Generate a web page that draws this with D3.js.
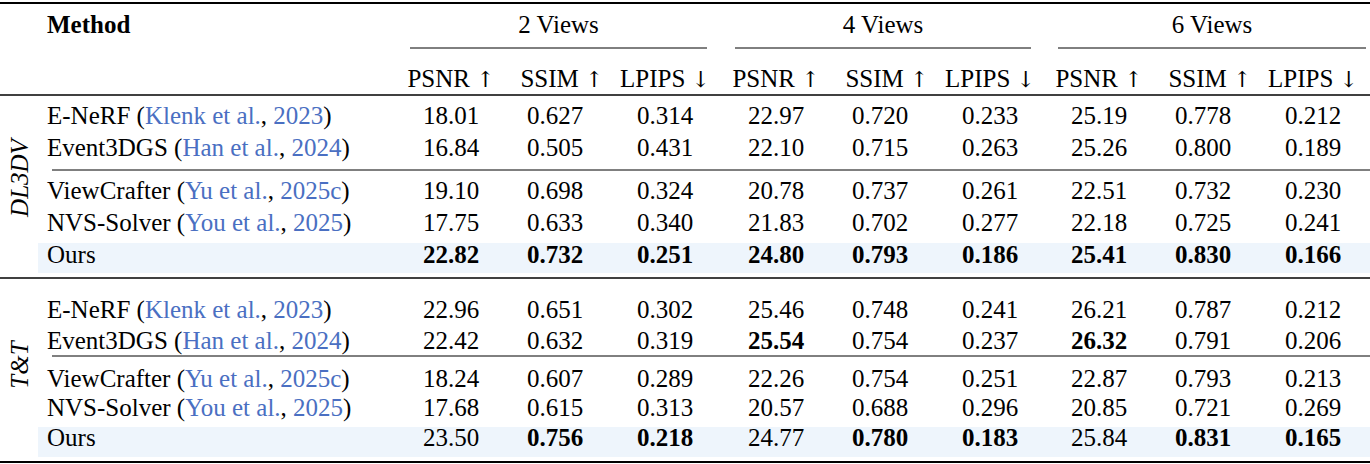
<!DOCTYPE html>
<html><head><meta charset="utf-8">
<script src="https://cdn.jsdelivr.net/npm/d3@7"></script>
<style>body{margin:0;background:#fff}svg{display:block}</style>
</head><body><svg id="c" width="1370" height="464"></svg>
<script>
const groups = ["2 Views","4 Views","6 Views"];
const metrics = ["PSNR","SSIM","LPIPS"];
const arrows = ["↑","↑","↓"];
const datasets = ["DL3DV","T&T"];
const methods = ["E-NeRF","Event3DGS","ViewCrafter","NVS-Solver","Ours"];
const cites = ["Klenk et al., 2023","Han et al., 2024","Yu et al., 2025c","You et al., 2025",""];
const dl3dv = [
 ["18.01","0.627","0.314","22.97","0.720","0.233","25.19","0.778","0.212"],
 ["16.84","0.505","0.431","22.10","0.715","0.263","25.26","0.800","0.189"],
 ["19.10","0.698","0.324","20.78","0.737","0.261","22.51","0.732","0.230"],
 ["17.75","0.633","0.340","21.83","0.702","0.277","22.18","0.725","0.241"],
 ["22.82","0.732","0.251","24.80","0.793","0.186","25.41","0.830","0.166"]];
const tt = [
 ["22.96","0.651","0.302","25.46","0.748","0.241","26.21","0.787","0.212"],
 ["22.42","0.632","0.319","25.54","0.754","0.237","26.32","0.791","0.206"],
 ["18.24","0.607","0.289","22.26","0.754","0.251","22.87","0.793","0.213"],
 ["17.68","0.615","0.313","20.57","0.688","0.296","20.85","0.721","0.269"],
 ["23.50","0.756","0.218","24.77","0.780","0.183","25.84","0.831","0.165"]];
const boldDL = [[],[],[],[],[0,1,2,3,4,5,6,7,8]];
const boldTT = [[],[3,6],[],[],[1,2,4,5,7,8]];

const svg = d3.select("#c");
const F = "'Liberation Serif','Times New Roman',serif";
const FS = 25;
const gr=[[410,707],[735,1031],[1058,1366]];
const offs=[41,145,255], hoffs=[41,152,255];
const colX = j=>gr[Math.floor(j/3)][0]+offs[j%3];
const hdrX = j=>gr[Math.floor(j/3)][0]+hoffs[j%3];
const blocks = [{name:"DL3DV",data:dl3dv,bold:boldDL,ys:[124,156,199,231,263],rule:170,hl:[243,273],lab:178},
                {name:"T&T",data:tt,bold:boldTT,ys:[318,349,387,416,446],rule:356,hl:[427,457],lab:365}];
const line=(x1,x2,y,w)=>svg.append("line").attr("x1",x1).attr("x2",x2).attr("y1",y).attr("y2",y).attr("stroke","#000").attr("stroke-width",w);
blocks.forEach(b=>svg.append("rect").attr("x",38).attr("y",b.hl[0]).attr("width",1332).attr("height",b.hl[1]-b.hl[0]).attr("fill","#eef5fc"));
line(0,1370,3,2.2); line(0,1370,95,1.4); line(0,1370,278,1.4); line(0,1370,462,2.2);
svg.append("text").attr("x",47).attr("y",33).attr("font-family",F).attr("font-size",FS).attr("font-weight","bold").text("Method");
groups.forEach((g,i)=>{
  svg.append("text").attr("x",(gr[i][0]+gr[i][1])/2).attr("y",33).attr("text-anchor","middle").attr("font-family",F).attr("font-size",FS).text(g);
  line(gr[i][0],gr[i][1],48,1);
});
d3.range(9).forEach(j=>{const t=svg.append("text").attr("x",hdrX(j)).attr("y",87).attr("text-anchor","middle").attr("font-family",F).attr("font-size",FS);
  t.append("tspan").text(metrics[j%3]+" ");
  t.append("tspan").attr("font-family","'DejaVu Serif',serif").attr("font-size",22).text(arrows[j%3]);});
blocks.forEach(b=>{
  line(52,1370,b.rule,1);
  svg.append("text").attr("transform",`translate(28,${b.lab}) rotate(-90)`).attr("text-anchor","middle").attr("font-family",F).attr("font-size",FS).attr("font-style","italic").text(b.name);
  methods.forEach((m,i)=>{
    const t=svg.append("text").attr("x",47).attr("y",b.ys[i]).attr("font-family",F).attr("font-size",FS);
    if(cites[i]){
      const p=cites[i].split(", ");
      t.append("tspan").text(m+" (");
      t.append("tspan").attr("fill","#4a6fc2").text(p[0]);
      t.append("tspan").text(", ");
      t.append("tspan").attr("fill","#4a6fc2").text(p[1]);
      t.append("tspan").text(")");
    } else t.text(m);
    b.data[i].forEach((v,j)=>svg.append("text").attr("x",colX(j)).attr("y",b.ys[i]).attr("text-anchor","middle")
      .attr("font-family",F).attr("font-size",FS).attr("font-weight",b.bold[i].includes(j)?"bold":"normal").text(v));
  });
});
</script></body></html>
